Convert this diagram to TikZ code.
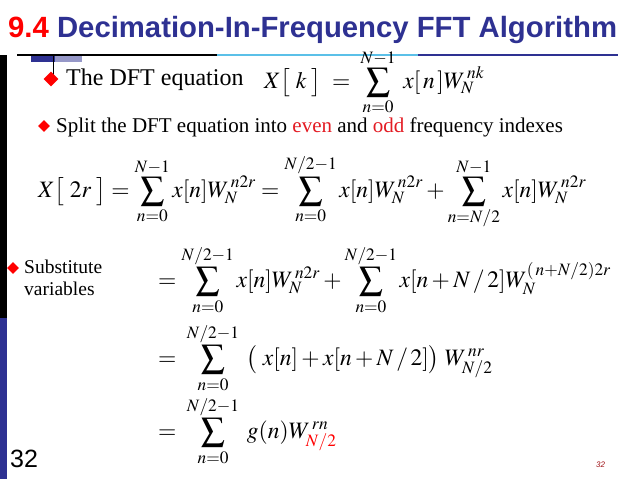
\documentclass[tikz,border=0pt]{standalone}
\usepackage{amsmath}
\usepackage{mathptmx}
\usepackage{fontspec}
\setmainfont{Liberation Serif}
\newfontfamily\titlefont{Liberation Sans}
\definecolor{tblue}{HTML}{2E3192}
\definecolor{lblue}{HTML}{5BC0E8}
\definecolor{ybar}{HTML}{FFCC00}
\definecolor{dred}{HTML}{E31B23}
\tikzset{eq/.style={anchor=west,inner sep=0pt,font=\fontsize{23.5}{28}\selectfont},
 bul/.style={diamond,fill=red,inner sep=0pt,minimum size=#1},
 txt/.style={anchor=west,inner sep=0pt}}
\usetikzlibrary{shapes.geometric}
\begin{document}
\begin{tikzpicture}[x=1pt,y=-1pt]
\useasboundingbox (0,0) rectangle (638,479);
% left bar
\fill (0,55) rectangle (7,158);
\fill[ybar] (0,158) rectangle (7,318);
\fill[tblue] (0,318) rectangle (7,479);
% header line
\draw[line width=2pt] (17,55) -- (217,55);
\draw[lblue,line width=2pt] (217,55) -- (418,55);
\draw[tblue,line width=2pt] (418,55) -- (618,55);
\fill[tblue] (31,56) rectangle (55,62);
\fill[tblue!50] (55,56) rectangle (82,62);
\draw[line width=0.8pt] (53,55) -- (53,80);
% title
\node[txt,font=\titlefont\bfseries\fontsize{29.3}{32}\selectfont] (title) at (8,30) {\textcolor{red}{9.4} \textcolor{tblue}{Decimation-In-Frequency FFT Algorithm}};
% bullet 1
\node[bul=15pt] (b1) at (51,79) {};
\node[txt,font=\fontsize{24}{28}\selectfont] (t1) at (66,80) {The DFT equation};
\node[eq] (e1) at (264,82) {$\displaystyle X\big[\;k\;\big]\;=\;\sum_{n=0}^{N-1}\;x[\,n\,]W_N^{\,nk}$};
% bullet 2
\node[bul=12pt] (b2) at (44,126) {};
\node[txt,font=\fontsize{21}{24}\selectfont] (t2) at (56,127) {Split the DFT equation into \textcolor{dred}{even} and \textcolor{dred}{odd} frequency indexes};
% eq 2
\node[eq] (e2) at (38,192) {$\displaystyle X\big[\;2r\;\big]=\sum_{n=0}^{N-1}x[n]W_N^{\,n2r}=\sum_{n=0}^{N/2-1}x[n]W_N^{\,n2r}+\sum_{n=N/2}^{N-1}x[n]W_N^{\,n2r}$};
% bullet 3
\node[bul=12pt] (b3) at (13,268) {};
\node[txt,font=\fontsize{19.5}{22}\selectfont,align=left,anchor=north west] (t3) at (24,260) {Substitute\\variables};
\node[eq] (e3) at (158,280) {$\displaystyle =\sum_{n=0}^{N/2-1}x[n]W_N^{\,n2r}+\sum_{n=0}^{N/2-1}x[n+N\,/\,2]W_N^{\left(\,n+N/2\right)2r}$};
\node[eq] (e4) at (158,358) {$\displaystyle =\;\sum_{n=0}^{N/2-1}\;\big(\;x[n]+x[n+N\,/\,2]\big)\;W_{N/2}^{\,nr}$};
\node[eq] (e5) at (158,431) {$\displaystyle =\;\sum_{n=0}^{N/2-1}\;g(n)W_{\textcolor{red}{N/2}}^{\,rn}$};
% page numbers
\node[txt,font=\titlefont\fontsize{25}{28}\selectfont] (p1) at (10,459) {32};
\node[txt,font=\titlefont\itshape\fontsize{8}{9}\selectfont,text=dred!70!black] (p2) at (596,465) {32};
\end{tikzpicture}
\end{document}
